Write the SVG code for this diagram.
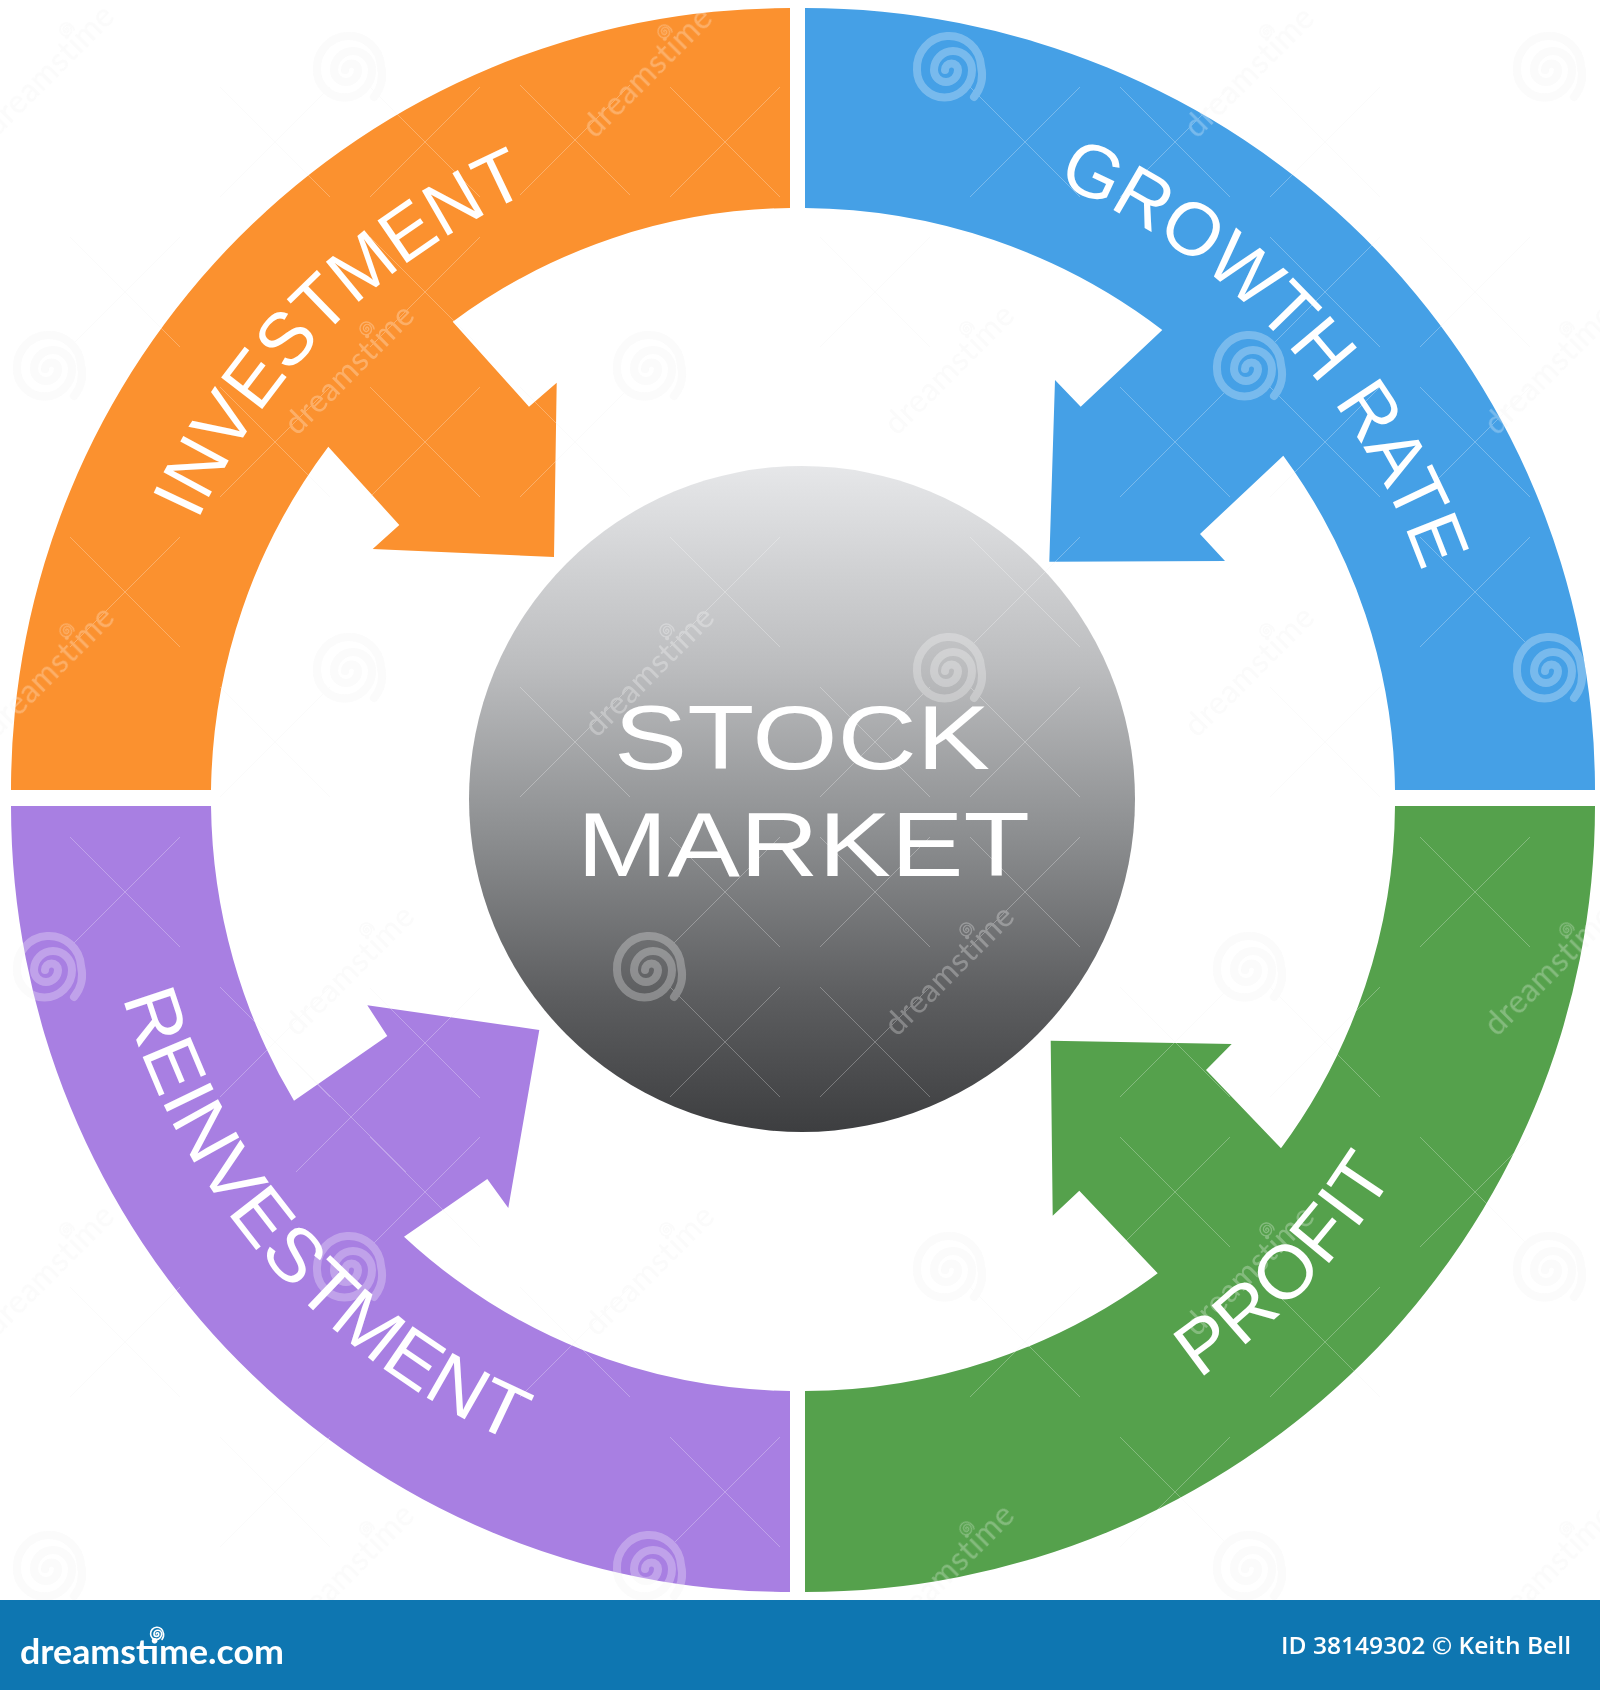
<svg xmlns="http://www.w3.org/2000/svg" width="1600" height="1690" viewBox="0 0 1600 1690">
<style>
.lbl{font-family:"Liberation Sans",Arial,sans-serif;fill:#fff;font-size:75px}
.ctr{font-family:"Liberation Sans",Arial,sans-serif;fill:#fff;font-size:91px}
.wmt{font-family:"Lato","Open Sans",sans-serif;font-size:32px;fill:currentColor;stroke:none;text-anchor:middle;letter-spacing:.5px}
.sp{fill:none;stroke:currentColor;stroke-width:8;stroke-linecap:round}
.xl{stroke:currentColor;stroke-width:1;fill:none}
</style>
<defs>
<linearGradient id="sph" x1="0" y1="0" x2="0" y2="1">
<stop offset="0" stop-color="#e6e7e9"/><stop offset="0.3" stop-color="#bcbdbf"/><stop offset="0.55" stop-color="#8d8f91"/><stop offset="0.8" stop-color="#5c5d5f"/><stop offset="1" stop-color="#3d3e40"/>
</linearGradient>
<path id="spiral" d="M25,27 A36,36 0 0 0 32,-4 A32,32 0 0 0 -32,0 A27.5,27.5 0 0 0 23,0 A19,19 0 0 0 -15,0 A12,12 0 0 0 9,0 A6.5,6.5 0 0 0 -4,0"/>
<g id="mark"><text class="wmt" x="0" y="11">dreamstime</text><use href="#spiral" class="sp" transform="translate(41,-16) scale(.2)" style="stroke-width:7"/></g>
<g id="wm">
<g class="xl">
<path d="M370,87 L480,197 M370,197 L480,87 M520,85 L630,195 M520,195 L630,85 M670,87 L780,197 M670,197 L780,87 M970,87 L1080,197 M970,197 L1080,87 M1120,87 L1230,197 M1120,197 L1230,87 M1270,87 L1380,197 M1270,197 L1380,87 M220,87 L330,197 M220,197 L330,87
M70,237 L180,347 M70,347 L180,237 M370,237 L480,347 M370,347 L480,237 M820,237 L930,347 M820,347 L930,237 M1270,237 L1380,347 M1270,347 L1380,237 M1420,237 L1530,347 M1420,347 L1530,237
M220,387 L330,497 M220,497 L330,387 M370,387 L480,497 M370,497 L480,387 M520,387 L630,497 M520,497 L630,387 M1120,387 L1230,497 M1120,497 L1230,387 M1270,387 L1380,497 M1270,497 L1380,387 M1420,387 L1530,497 M1420,497 L1530,387
M70,537 L180,647 M70,647 L180,537 M670,537 L780,647 M670,647 L780,537 M970,537 L1080,647 M970,647 L1080,537 M1420,537 L1530,647 M1420,647 L1530,537
M220,687 L330,797 M220,797 L330,687 M520,687 L630,797 M520,797 L630,687 M820,687 L930,797 M820,797 L930,687 M970,687 L1080,797 M970,797 L1080,687 M1270,687 L1380,797 M1270,797 L1380,687
M70,837 L180,947 M70,947 L180,837 M670,837 L780,947 M670,947 L780,837 M820,837 L930,947 M820,947 L930,837 M970,837 L1080,947 M970,947 L1080,837 M1420,837 L1530,947 M1420,947 L1530,837
M220,987 L330,1097 M220,1097 L330,987 M370,988 L480,1098 M370,1098 L480,988 M670,987 L780,1097 M670,1097 L780,987 M820,987 L930,1097 M820,1097 L930,987 M1120,987 L1230,1097 M1120,1097 L1230,987 M1270,987 L1380,1097 M1270,1097 L1380,987
M296,1062 L406,1172 M296,1172 L406,1062 M370,1137 L480,1247 M370,1247 L480,1137 M1120,1137 L1230,1247 M1120,1247 L1230,1137 M1420,1137 L1530,1247 M1420,1247 L1530,1137
M70,1287 L180,1397 M70,1397 L180,1287 M520,1287 L630,1397 M520,1397 L630,1287 M970,1287 L1080,1397 M970,1397 L1080,1287 M1270,1287 L1380,1397 M1270,1397 L1380,1287
M220,1437 L330,1547 M220,1547 L330,1437 M670,1437 L780,1547 M670,1547 L780,1437 M1120,1437 L1230,1547 M1120,1547 L1230,1437"/>
</g>
<g class="sp">
<use href="#spiral" x="349" y="70"/><use href="#spiral" x="949" y="70"/><use href="#spiral" x="1549" y="70"/>
<use href="#spiral" x="49" y="369"/><use href="#spiral" x="649" y="369"/><use href="#spiral" x="1249" y="369"/>
<use href="#spiral" x="349" y="671"/><use href="#spiral" x="949" y="671"/><use href="#spiral" x="1549" y="671"/>
<use href="#spiral" x="49" y="970"/><use href="#spiral" x="649" y="970"/><use href="#spiral" x="1249" y="970"/>
<use href="#spiral" x="349" y="1270"/><use href="#spiral" x="949" y="1270"/><use href="#spiral" x="1549" y="1270"/>
<use href="#spiral" x="49" y="1569"/><use href="#spiral" x="649" y="1569"/><use href="#spiral" x="1249" y="1569"/>
</g>
<use href="#mark" transform="translate(49,70) rotate(-45)"/><use href="#mark" transform="translate(647,72) rotate(-45)"/><use href="#mark" transform="translate(1249,72) rotate(-45)"/>
<use href="#mark" transform="translate(349,369) rotate(-45)"/><use href="#mark" transform="translate(949,369) rotate(-45)"/><use href="#mark" transform="translate(1549,369) rotate(-45)"/>
<use href="#mark" transform="translate(49,671) rotate(-45)"/><use href="#mark" transform="translate(649,671) rotate(-45)"/><use href="#mark" transform="translate(1249,671) rotate(-45)"/>
<use href="#mark" transform="translate(349,970) rotate(-45)"/><use href="#mark" transform="translate(949,970) rotate(-45)"/><use href="#mark" transform="translate(1549,970) rotate(-45)"/>
<use href="#mark" transform="translate(49,1270) rotate(-45)"/><use href="#mark" transform="translate(649,1270) rotate(-45)"/><use href="#mark" transform="translate(1249,1270) rotate(-45)"/>
<use href="#mark" transform="translate(349,1569) rotate(-45)"/><use href="#mark" transform="translate(949,1569) rotate(-45)"/><use href="#mark" transform="translate(1549,1569) rotate(-45)"/>
</g>
<path id="pInv" d="M197.7,521.1 A652,652 0 0 1 534.2,190.7"/>
<path id="pGro" d="M1056,183 A655,655 0 0 1 1422,572"/>
<path id="pRei" d="M122.9,997.3 A694,694 0 0 0 513.3,1442.4"/>
<path id="pPro" d="M1198.7,1378.9 A695,695 0 0 0 1394.4,1174.3"/>
</defs>
<rect width="1600" height="1690" fill="#fff"/>
<use href="#wm" style="color:#8a8a8a;opacity:.045"/>
<g id="node-investment"><path fill="#fb912f" d="M790,8 V208 A579,582 0 0 0 452.7,321.7 L529,406.7 L556.7,382.7 L554,557 L372.7,549 L399.3,525 L328.3,446.7 A579,582 0 0 0 211,790 H11 A779,782 0 0 1 790,8 Z"/></g>
<g id="node-growth-rate"><path fill="#45a0e6" d="M805,8 V208 A590,582 0 0 1 1162.3,330 L1080.7,406.7 L1055,380 L1049.3,561.7 L1225,561 L1200,534 L1283.3,455.7 A590,582 0 0 1 1395,790 H1595 A790,782 0 0 0 805,8 Z"/></g>
<g id="node-profit"><path fill="#55a14c" d="M1595,806 H1395 A590,585 0 0 1 1281,1148.3 L1206,1070 L1231.7,1044 L1050.7,1040.7 L1052.7,1215.7 L1079.3,1190.7 L1157.7,1273.3 A590,585 0 0 1 805,1391 V1592 A790,786 0 0 0 1595,806 Z"/></g>
<g id="node-reinvestment"><path fill="#a87fe2" d="M11,806 H211 A579,585 0 0 0 294,1100.7 L387.3,1036 L367.3,1005.3 L539.3,1030 L508.3,1208 L487.3,1179 L404,1236.7 A579,585 0 0 0 790,1391 V1592 A779,786 0 0 1 11,806 Z"/></g>
<g id="node-center"><circle cx="802" cy="799" r="333" fill="url(#sph)"/></g>
<use href="#wm" style="color:#fff;opacity:.28"/>
<g id="labels">
<text class="lbl"><textPath href="#pInv" textLength="478" lengthAdjust="spacingAndGlyphs">INVESTMENT</textPath></text>
<text class="lbl"><textPath href="#pGro" textLength="550" lengthAdjust="spacingAndGlyphs">GROWTH RATE</textPath></text>
<text class="lbl"><textPath href="#pRei" textLength="612" lengthAdjust="spacingAndGlyphs">REINVESTMENT</textPath></text>
<text class="lbl"><textPath href="#pPro" textLength="285" lengthAdjust="spacingAndGlyphs">PROFIT</textPath></text>
<text class="ctr" x="614" y="769" textLength="376" lengthAdjust="spacingAndGlyphs">STOCK</text>
<text class="ctr" x="577" y="876" textLength="453" lengthAdjust="spacingAndGlyphs">MARKET</text>
</g>
<g id="footer">
<rect y="1600" width="1600" height="90" fill="#0e76b1"/>
<text x="20" y="1664" font-family="Lato,sans-serif" font-size="35" font-weight="700" fill="#fff" textLength="264" lengthAdjust="spacingAndGlyphs">dreamstime.com</text>
<use href="#spiral" class="sp" transform="translate(157,1634) scale(.2)" style="color:#fff;stroke-width:8"/>
<text x="1281" y="1654" font-family="Open Sans,sans-serif" font-size="23" font-weight="600" fill="#fff" textLength="290" lengthAdjust="spacingAndGlyphs">ID 38149302 © Keith Bell</text>
</g>
</svg>
